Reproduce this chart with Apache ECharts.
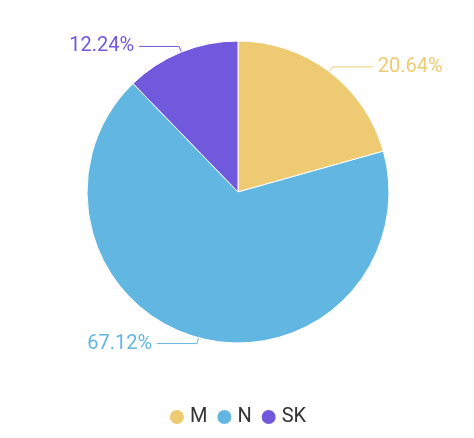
<!DOCTYPE html>
<html>
<head>
<meta charset="utf-8">
<script src="https://cdn.jsdelivr.net/npm/echarts@6/dist/echarts.min.js"></script>
<style>html,body{margin:0;padding:0;background:#fff;}#chart{width:474px;height:438px;}</style>
</head>
<body>
<div id="chart"></div>
<script>
var categories = ['M', 'N', 'SK'];
var values = [20.64, 67.12, 12.24];
var colors = ['#EECB72', '#61B7E2', '#7159DD'];

var chart = echarts.init(document.getElementById('chart'));
var pieData = [];
for (var i = 0; i < categories.length; i++) {
	pieData.push({name: categories[i], value: values[i], label: {color: colors[i]}});
}
chart.setOption({
	color: colors,
	legend: {
		bottom: 6,
		icon: 'circle',
		itemWidth: 16,
		itemHeight: 16,
		itemGap: 8,
		textStyle: {fontFamily: 'Roboto', fontSize: 20, color: '#333'},
		data: categories
	},
	series: [{
		type: 'pie',
		center: [238, 192],
		radius: 151,
		startAngle: 90,
		data: pieData,
		itemStyle: {borderColor: '#fff', borderWidth: 1},
		label: {
			show: true,
			formatter: '{d}%',
			fontFamily: 'Roboto',
			fontSize: 20
		},
		labelLine: {show: true, length: 6, length2: 40, lineStyle: {width: 1}}
	}]
});
</script>
</body>
</html>
